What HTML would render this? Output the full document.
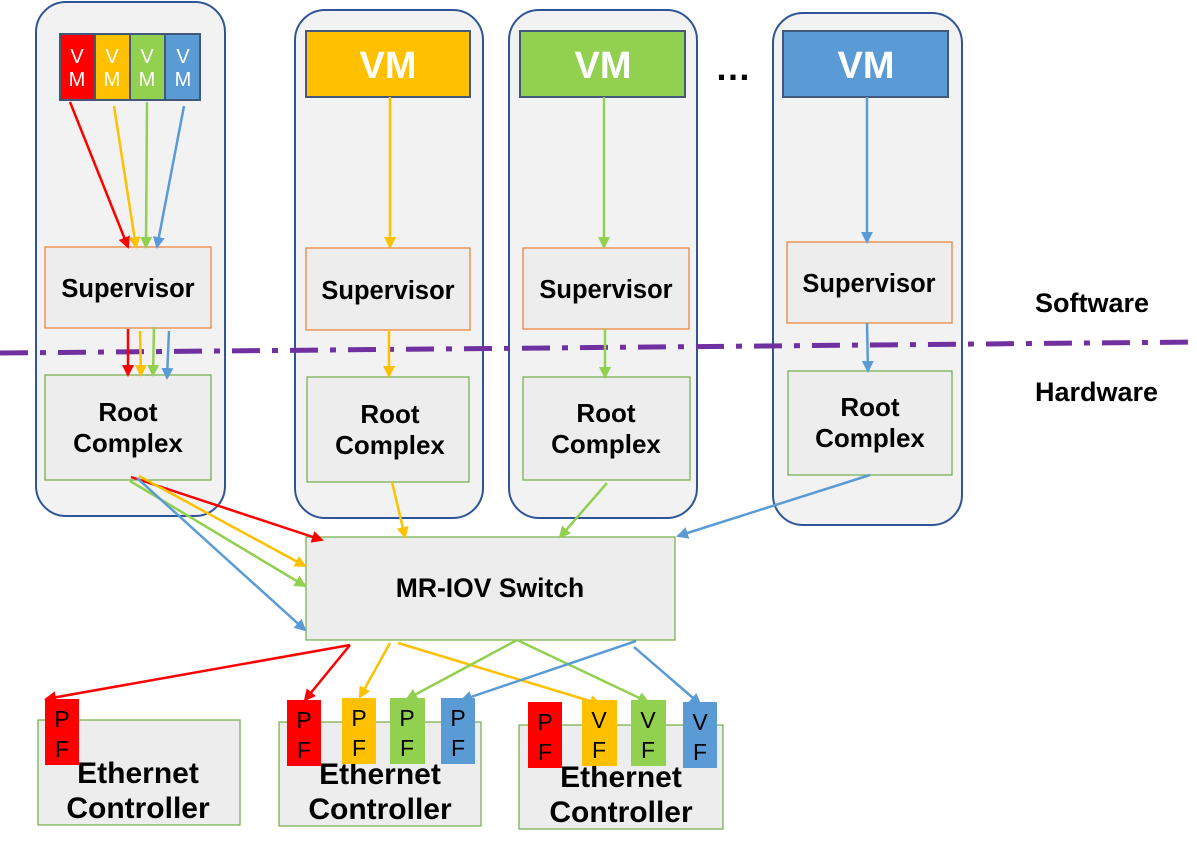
<!DOCTYPE html>
<html><head><meta charset="utf-8"><style>
html,body{margin:0;padding:0;background:#fff;}
svg{display:block;}
text{font-family:"Liberation Sans","DejaVu Sans",sans-serif;}
.b{font-weight:bold;fill:#000;}
</style></head><body>
<svg width="1197" height="847" viewBox="0 0 1197 847" xmlns="http://www.w3.org/2000/svg">
<defs>
<marker id="mr" markerWidth="12" markerHeight="12" refX="10" refY="6" orient="auto" markerUnits="userSpaceOnUse" viewBox="0 0 12 12"><path d="M0,0 L12,6 L0,12 z" fill="#ff0000"/></marker>
<marker id="mo" markerWidth="12" markerHeight="12" refX="10" refY="6" orient="auto" markerUnits="userSpaceOnUse" viewBox="0 0 12 12"><path d="M0,0 L12,6 L0,12 z" fill="#ffc000"/></marker>
<marker id="mg" markerWidth="12" markerHeight="12" refX="10" refY="6" orient="auto" markerUnits="userSpaceOnUse" viewBox="0 0 12 12"><path d="M0,0 L12,6 L0,12 z" fill="#92d050"/></marker>
<marker id="mb" markerWidth="12" markerHeight="12" refX="10" refY="6" orient="auto" markerUnits="userSpaceOnUse" viewBox="0 0 12 12"><path d="M0,0 L12,6 L0,12 z" fill="#5b9bd5"/></marker>
</defs>

<g fill="#f2f2f2" stroke="#2f5597" stroke-width="2">
<rect x="36" y="2" width="189" height="514" rx="30"/>
<rect x="295" y="10" width="188" height="508" rx="30"/>
<rect x="509" y="10" width="188" height="508" rx="30"/>
<rect x="773" y="13" width="189" height="512" rx="30"/>
</g>

<g stroke="#41587a" stroke-width="2">
<rect x="60" y="34" width="35" height="66" fill="#ff0000"/>
<rect x="95" y="34" width="35" height="66" fill="#ffc000"/>
<rect x="130" y="34" width="35" height="66" fill="#92d050"/>
<rect x="165" y="34" width="35" height="66" fill="#5b9bd5"/>
</g>
<g fill="#fff" font-size="20" text-anchor="middle">
<text x="77" y="63">V</text><text x="77" y="86">M</text>
<text x="112" y="63">V</text><text x="112" y="86">M</text>
<text x="147" y="63">V</text><text x="147" y="86">M</text>
<text x="183" y="63">V</text><text x="183" y="86">M</text>
</g>

<g stroke="#41587a" stroke-width="2">
<rect x="306" y="31" width="164" height="66" fill="#ffc000"/>
<rect x="520" y="31" width="165" height="66" fill="#92d050"/>
<rect x="783" y="31" width="165" height="66" fill="#5b9bd5"/>
</g>
<g fill="#fff" font-size="38" font-weight="bold" text-anchor="middle">
<text x="388" y="78">VM</text><text x="603" y="78">VM</text><text x="866" y="78">VM</text>
</g>
<text x="733" y="80" class="b" font-size="36" text-anchor="middle">…</text>

<g fill="#ededed" stroke="#ed7d31" stroke-width="1.2">
<rect x="45" y="247" width="166" height="81"/>
<rect x="306" y="248" width="164" height="82"/>
<rect x="523" y="248" width="166" height="81"/>
<rect x="787" y="242" width="165" height="81"/>
</g>
<g class="b" font-size="25.5" text-anchor="middle">
<text x="128" y="297">Supervisor</text>
<text x="388" y="299">Supervisor</text>
<text x="606" y="298">Supervisor</text>
<text x="869" y="292">Supervisor</text>
</g>

<g fill="#ededed" stroke="#70ad47" stroke-width="1.2">
<rect x="45" y="375" width="166" height="105"/>
<rect x="307" y="377" width="162" height="105"/>
<rect x="523" y="377" width="167" height="103"/>
<rect x="788" y="371" width="164" height="104"/>
</g>
<g class="b" font-size="26" text-anchor="middle">
<text x="128" y="421">Root</text><text x="128" y="452">Complex</text>
<text x="390" y="423">Root</text><text x="390" y="454">Complex</text>
<text x="606" y="422">Root</text><text x="606" y="453">Complex</text>
<text x="870" y="416">Root</text><text x="870" y="447">Complex</text>
</g>

<line x1="0" y1="353" x2="1197" y2="342" stroke="#7030a0" stroke-width="5" stroke-dasharray="28 12 6 12"/>
<text x="1035" y="312" class="b" font-size="27">Software</text>
<text x="1035" y="401" class="b" font-size="27">Hardware</text>

<rect x="306" y="537" width="369" height="103" fill="#ededed" stroke="#70ad47" stroke-width="1.2"/>
<text x="490" y="597" class="b" font-size="26.5" text-anchor="middle">MR-IOV Switch</text>

<g fill="#ededed" stroke="#70ad47" stroke-width="1.2">
<rect x="38" y="720" width="202" height="105"/>
<rect x="279" y="722" width="202" height="104"/>
<rect x="519" y="725" width="204" height="104"/>
</g>
<g class="b" font-size="30" text-anchor="middle">
<text x="138" y="783">Ethernet</text><text x="138" y="818">Controller</text>
<text x="380" y="784">Ethernet</text><text x="380" y="819">Controller</text>
<text x="621" y="787">Ethernet</text><text x="621" y="822">Controller</text>
</g>

<rect x="45" y="699" width="34" height="66" fill="#ff0000"/>
<rect x="287" y="700" width="34" height="66" fill="#ff0000"/>
<rect x="342" y="698" width="34" height="66" fill="#ffc000"/>
<rect x="390" y="698" width="35" height="66" fill="#92d050"/>
<rect x="441" y="698" width="34" height="66" fill="#5b9bd5"/>
<rect x="528" y="702" width="34" height="66" fill="#ff0000"/>
<rect x="582" y="700" width="35" height="66" fill="#ffc000"/>
<rect x="631" y="700" width="35" height="66" fill="#92d050"/>
<rect x="683" y="702" width="34" height="66" fill="#5b9bd5"/>
<g font-size="23" fill="#000" text-anchor="middle">
<text x="62" y="727">P</text><text x="62" y="757">F</text>
<text x="304" y="728">P</text><text x="304" y="758">F</text>
<text x="359" y="726">P</text><text x="359" y="756">F</text>
<text x="407" y="726">P</text><text x="407" y="756">F</text>
<text x="458" y="726">P</text><text x="458" y="756">F</text>
<text x="545" y="730">P</text><text x="545" y="760">F</text>
<text x="599" y="728">V</text><text x="599" y="758">F</text>
<text x="648" y="728">V</text><text x="648" y="758">F</text>
<text x="700" y="730">V</text><text x="700" y="760">F</text>
</g>

<g stroke-width="2.5" fill="none">
<line x1="70" y1="102" x2="128" y2="247" stroke="#ff0000" marker-end="url(#mr)"/>
<line x1="114" y1="106" x2="136" y2="247" stroke="#ffc000" marker-end="url(#mo)"/>
<line x1="147" y1="102" x2="146" y2="247" stroke="#92d050" marker-end="url(#mg)"/>
<line x1="184" y1="106" x2="157" y2="247" stroke="#5b9bd5" marker-end="url(#mb)"/>
<line x1="128" y1="329" x2="128" y2="375" stroke="#ff0000" marker-end="url(#mr)"/>
<line x1="140" y1="331" x2="141" y2="375" stroke="#ffc000" marker-end="url(#mo)"/>
<line x1="154" y1="327" x2="153" y2="375" stroke="#92d050" marker-end="url(#mg)"/>
<line x1="169" y1="331" x2="167" y2="378" stroke="#5b9bd5" marker-end="url(#mb)"/>
<line x1="131" y1="477" x2="322" y2="540" stroke="#ff0000" marker-end="url(#mr)"/>
<line x1="139" y1="476" x2="305" y2="566" stroke="#ffc000" marker-end="url(#mo)"/>
<line x1="130" y1="481" x2="305" y2="586" stroke="#92d050" marker-end="url(#mg)"/>
<line x1="137" y1="478" x2="305" y2="630" stroke="#5b9bd5" marker-end="url(#mb)"/>
<line x1="390" y1="97" x2="390" y2="247" stroke="#ffc000" marker-end="url(#mo)"/>
<line x1="389" y1="330" x2="389" y2="376" stroke="#ffc000" marker-end="url(#mo)"/>
<line x1="392" y1="482" x2="405" y2="537" stroke="#ffc000" marker-end="url(#mo)"/>
<line x1="604" y1="97" x2="604" y2="247" stroke="#92d050" marker-end="url(#mg)"/>
<line x1="605" y1="329" x2="605" y2="377" stroke="#92d050" marker-end="url(#mg)"/>
<line x1="607" y1="483" x2="560" y2="537" stroke="#92d050" marker-end="url(#mg)"/>
<line x1="867" y1="97" x2="867" y2="242" stroke="#5b9bd5" marker-end="url(#mb)"/>
<line x1="867" y1="323" x2="868" y2="371" stroke="#5b9bd5" marker-end="url(#mb)"/>
<line x1="870" y1="475" x2="678" y2="536" stroke="#5b9bd5" marker-end="url(#mb)"/>
<line x1="350" y1="645" x2="46" y2="699" stroke="#ff0000" marker-end="url(#mr)"/>
<line x1="350" y1="645" x2="305" y2="700" stroke="#ff0000" marker-end="url(#mr)"/>
<line x1="390" y1="643" x2="360" y2="697" stroke="#ffc000" marker-end="url(#mo)"/>
<line x1="398" y1="643" x2="600" y2="704" stroke="#ffc000" marker-end="url(#mo)"/>
<line x1="517" y1="640" x2="407" y2="699" stroke="#92d050" marker-end="url(#mg)"/>
<line x1="517" y1="640" x2="648" y2="702" stroke="#92d050" marker-end="url(#mg)"/>
<line x1="636" y1="641" x2="462" y2="700" stroke="#5b9bd5" marker-end="url(#mb)"/>
<line x1="634" y1="647" x2="700" y2="704" stroke="#5b9bd5" marker-end="url(#mb)"/>
</g>
</svg>
</body></html>
